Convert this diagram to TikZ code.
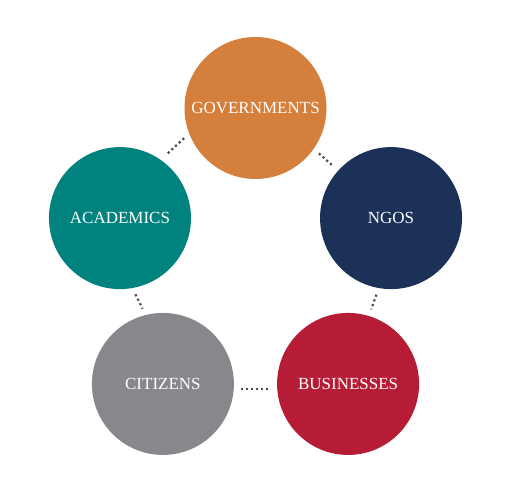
\documentclass[tikz,border=0pt]{standalone}
\usepackage{fontspec}
\setmainfont{Liberation Serif}
\usetikzlibrary{shapes, calc, positioning}
\definecolor{hubgov}{HTML}{D47F3C}
\definecolor{hubngo}{HTML}{1B3158}
\definecolor{hubbus}{HTML}{B71C37}
\definecolor{hubcit}{HTML}{87888B}
\definecolor{hubacad}{HTML}{00827F}
\definecolor{hubdots}{HTML}{4D4D4D}

\begin{document}
\begin{tikzpicture}[x=1pt,y=1pt,every node/.style={font=\fontsize{17}{20}\selectfont}]
        \useasboundingbox (0,0) rectangle (513,497);
        \tikzset{hub/.style={circle, inner sep=0pt, outer sep=0pt, minimum size=142pt, text=white},
                 link/.style={hubdots, line width=2.2pt, dash pattern=on 2.2pt off 2.8pt, shorten >=7pt, shorten <=7pt}}
        \begin{scope}[shift={(255.5,234.6)}]
            \foreach \a/\r/\n/\t/\c in {90/154.4/gov/GOVERNMENTS/hubgov, 18.1/142.6/ngo/NGOS/hubngo,
                                        307.3/152.8/bus/BUSINESSES/hubbus, 232.7/152.8/cit/CITIZENS/hubcit,
                                        161.9/142.6/acad/ACADEMICS/hubacad}{
                \node[hub, fill=\c] (\n) at (\a:\r) {\t};
            }
        \end{scope}
        \draw[link] (gov.201) -- (acad.55);
        \draw[link] (gov.325) -- (ngo.138);
        \draw[link] (ngo.260) -- (bus.73);
        \draw[link] (cit.356) -- (bus.184);
        \draw[link] (acad.280) -- (cit.104);
    \end{tikzpicture}
\end{document}
